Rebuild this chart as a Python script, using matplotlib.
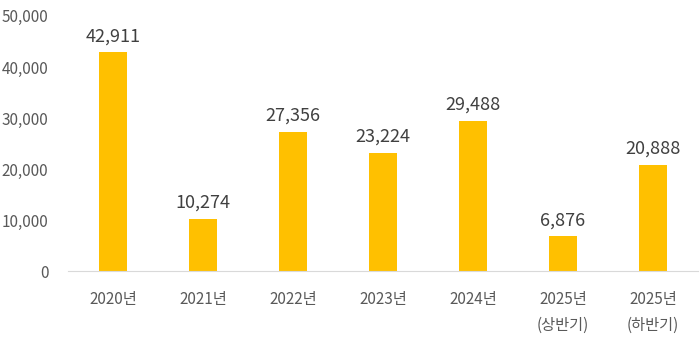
import matplotlib
matplotlib.use("Agg")
import matplotlib.pyplot as plt
from matplotlib.ticker import FuncFormatter

# --------------------
# Data
# --------------------
categories = ["2020년", "2021년", "2022년", "2023년", "2024년", "2025년\n(상반기)", "2025년\n(하반기)"]
values = [42911, 10274, 27356, 23224, 29488, 6876, 20888]

plt.rcParams['font.family'] = ['Noto Sans CJK KR', 'DejaVu Sans']

fig = plt.figure(figsize=(7, 3.39), dpi=100)
ax = fig.add_axes([0.097, 0.2, 0.9, 0.753])

x = range(len(categories))
ax.bar(x, values, width=0.31, color="#FFC000")

# value labels above bars
for xi, v in zip(x, values):
    ax.text(xi, v + 1300, f"{v:,}", ha="center", va="bottom", fontsize=13, color="#404040")

ax.set_xlim(-0.5, len(categories) - 0.5)
ax.set_ylim(0, 50000)
ax.set_yticks(range(0, 50001, 10000))
ax.yaxis.set_major_formatter(FuncFormatter(lambda v, p: f"{int(v):,}"))
ax.set_xticks(list(x))
ax.set_xticklabels(categories, linespacing=1.7)

for s in ["top", "right", "left"]:
    ax.spines[s].set_visible(False)
ax.spines["bottom"].set_color("#D9D9D9")
ax.tick_params(axis="both", length=0, labelsize=11, colors="#595959")
ax.tick_params(axis="x", pad=14)
ax.tick_params(axis="y", pad=14)

fig.savefig("out.png", dpi=100)
